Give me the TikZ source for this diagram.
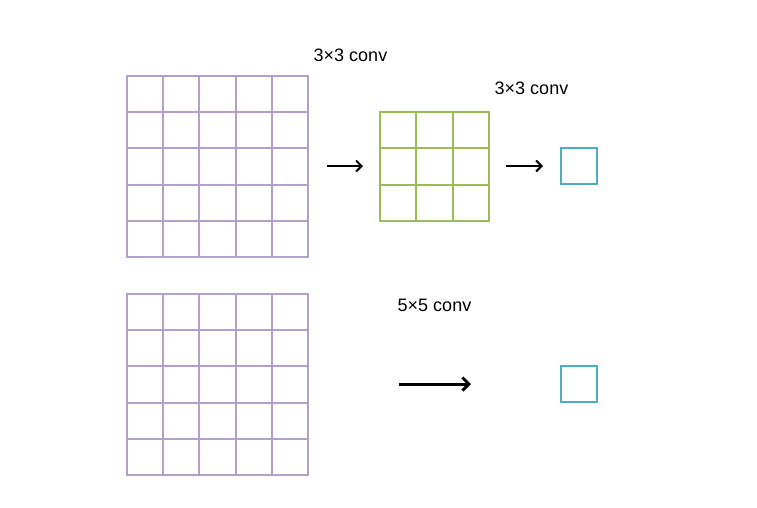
\documentclass[tikz,border=0pt]{standalone}
\usepackage{fontspec}
\setmainfont{Liberation Sans}
\usetikzlibrary{arrows.meta}
\definecolor{gridpurple}{RGB}{178,160,202}
\definecolor{gridgreen}{RGB}{155,187,89}
\definecolor{gridcyan}{RGB}{75,172,198}
\begin{document}
\begin{tikzpicture}[x=1pt,y=-1pt,
  cell/.style={draw=#1, line width=2pt, minimum size=36.2pt, inner sep=0pt, outer sep=0pt},
  lbl/.style={font=\fontsize{18}{21}\selectfont, inner sep=0pt},
  arr/.style={-{Straight Barb[length=5.5pt,width=11pt]}, line width=2pt, black},
  arrbig/.style={-{Straight Barb[length=6.5pt,width=13pt]}, line width=3pt, black}]
\useasboundingbox (0,0) rectangle (757,507);
% top 5x5 grid
\foreach \i in {0,...,4}{\foreach \j in {0,...,4}{
  \node[cell=gridpurple] (a\i\j) at ({145.1+36.2*\i},{94.1+36.2*\j}) {};}}
% bottom 5x5 grid
\foreach \i in {0,...,4}{\foreach \j in {0,...,4}{
  \node[cell=gridpurple] (b\i\j) at ({145.1+36.2*\i},{312.1+36.2*\j}) {};}}
% green 3x3 grid
\foreach \i in {0,...,2}{\foreach \j in {0,...,2}{
  \node[cell=gridgreen] (c\i\j) at ({398.2+36.2*\i},{130.2+36.2*\j}) {};}}
% output squares
\node[cell=gridcyan] (o1) at (579,166) {};
\node[cell=gridcyan] (o2) at (579,384) {};
% labels
\node[lbl] (l1) at (350.5,55) {3×3 conv};
\node[lbl] (l2) at (531.5,88) {3×3 conv};
\node[lbl] (l3) at (434.5,305) {5×5 conv};
% arrows
\coordinate (s1) at (327,166); \coordinate (e1) at (363,166);
\coordinate (s2) at (506,166); \coordinate (e2) at (543,166);
\coordinate (s3) at (399,384); \coordinate (e3) at (471,384);
\draw[arr] (s1) -- (e1);
\draw[arr] (s2) -- (e2);
\draw[arrbig] (s3) -- (e3);
\end{tikzpicture}
\end{document}
